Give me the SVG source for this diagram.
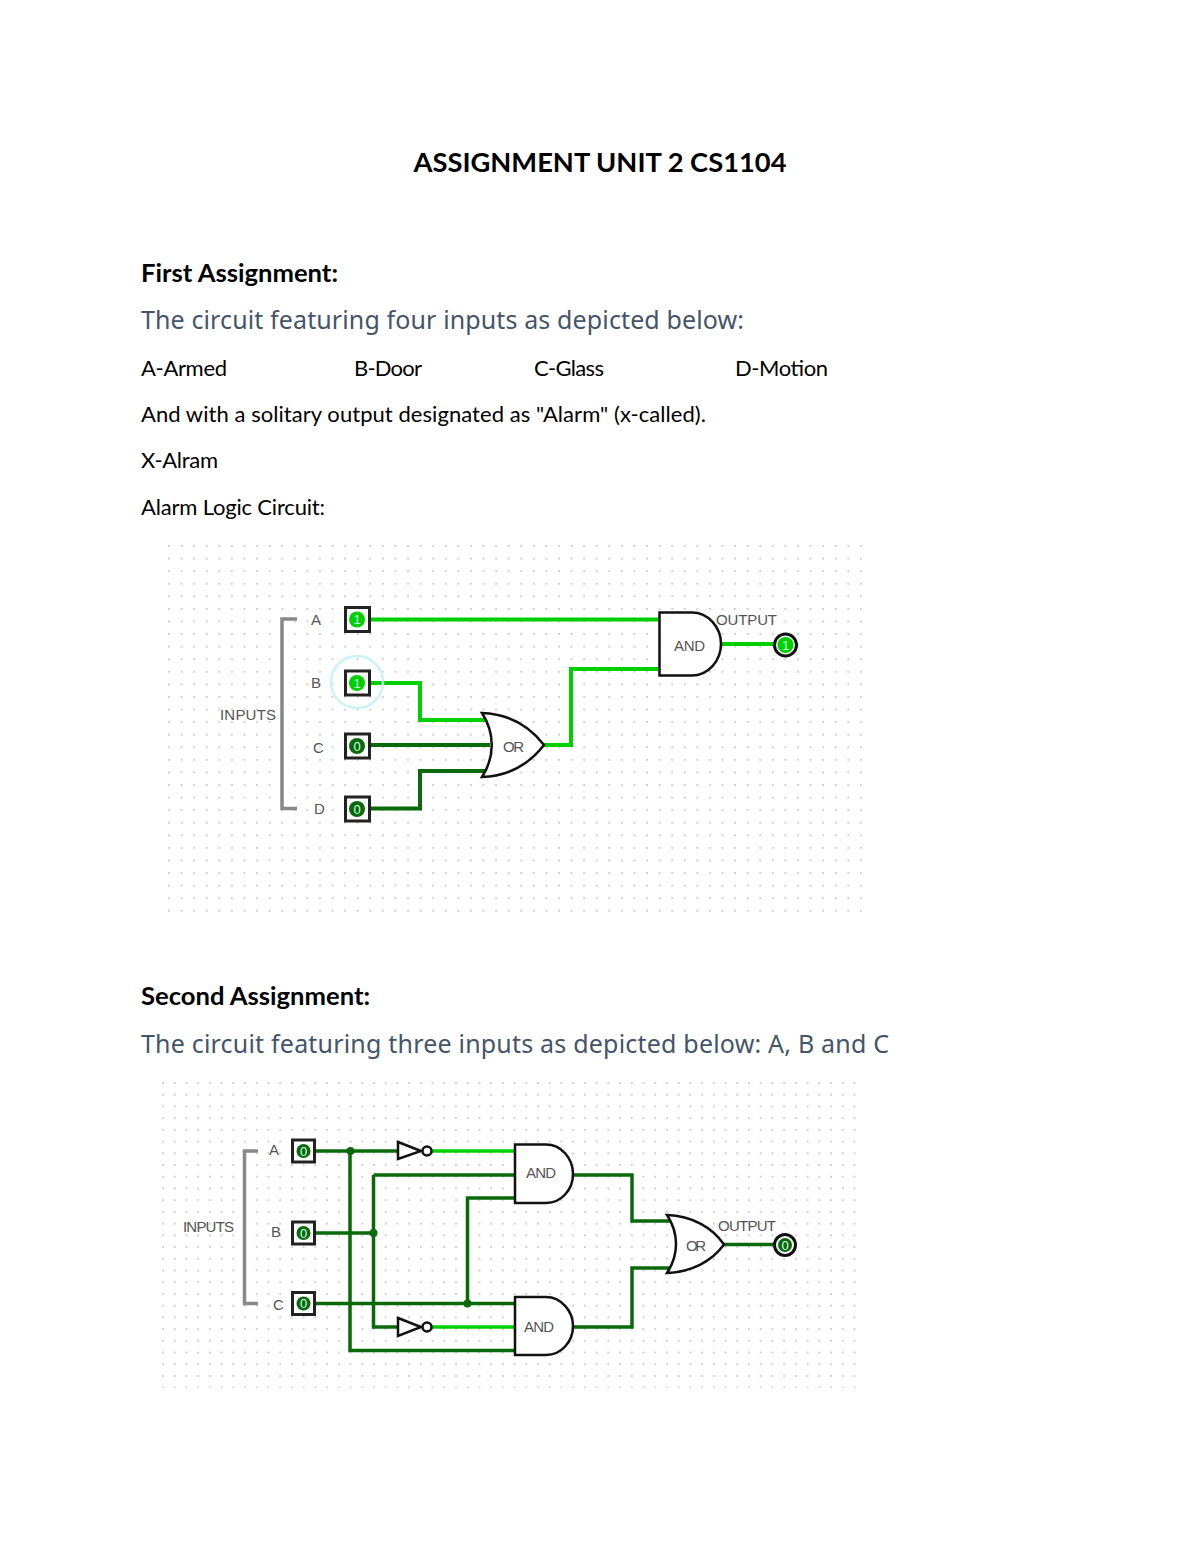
<svg xmlns="http://www.w3.org/2000/svg" width="1200" height="1553" viewBox="0 0 1200 1553">
<style>
text{font-family:"Lato","Liberation Sans",sans-serif;fill:#000}
.body{font-size:22px}
.h{font-size:24px;font-weight:700}
.sub{font-family:"Noto Sans","Open Sans",sans-serif;font-size:25px;fill:#44546a}
.lab{font-family:"Liberation Sans",sans-serif;font-size:15px;fill:#555}
.hi{fill:none;stroke:#00d000;stroke-width:3.5;stroke-linejoin:miter}
.lo{fill:none;stroke:#0a6a0a;stroke-width:3.5;stroke-linejoin:miter}
#wires-1 path{stroke-width:4}
.gate{fill:#fff;stroke:#111;stroke-width:2.5}
.box{fill:#fff;stroke:#222;stroke-width:3}
.br{fill:none;stroke:#888;stroke-width:3.5}
.on{fill:#00d000}.off{fill:#0a6a0a}
.v{font-family:"Liberation Sans",sans-serif;font-size:13px;fill:#cfe;text-anchor:middle}
</style>
<defs>
<pattern id="d1" x="168" y="545" width="12.58" height="12.58" patternUnits="userSpaceOnUse"><circle cx="1" cy="1" r="0.9" fill="#bbb"/></pattern>
<pattern id="d2" x="162" y="1082" width="11.72" height="11.72" patternUnits="userSpaceOnUse"><circle cx="1" cy="1" r="0.9" fill="#bbb"/></pattern>
</defs>
<rect width="1200" height="1553" fill="#fff"/>
<g id="page-text">
<text x="600" y="172" class="h" text-anchor="middle" style="font-size:27px" textLength="373" lengthAdjust="spacingAndGlyphs">ASSIGNMENT UNIT 2 CS1104</text>
<text x="141" y="282" class="h" textLength="197" lengthAdjust="spacingAndGlyphs">First Assignment:</text>
<text x="141" y="329" class="sub" textLength="603" lengthAdjust="spacing">The circuit featuring four inputs as depicted below:</text>
<text x="141" y="376" class="body" textLength="86">A-Armed</text>
<text x="354" y="376" class="body" textLength="68">B-Door</text>
<text x="534" y="376" class="body" textLength="70">C-Glass</text>
<text x="735" y="376" class="body" textLength="93">D-Motion</text>
<text x="141" y="422" class="body" textLength="565">And with a solitary output designated as "Alarm" (x-called).</text>
<text x="141" y="468" class="body" textLength="77">X-Alram</text>
<text x="141" y="515" class="body" textLength="184">Alarm Logic Circuit:</text>
<text x="141" y="1005" class="h" textLength="229" lengthAdjust="spacingAndGlyphs">Second Assignment:</text>
<text x="141" y="1053" class="sub" textLength="748" lengthAdjust="spacing">The circuit featuring three inputs as depicted below: A, B and C</text>
</g>
<rect id="grid-1" x="166" y="543" width="698" height="370" fill="url(#d1)"/>
<rect id="grid-2" x="160" y="1080" width="700" height="308" fill="url(#d2)"/>

<g id="connectors">
<g id="wires-1">
<path class="hi" d="M370 619.500H660"/>
<path class="hi" d="M370 683H420V720H485"/>
<path class="lo" d="M370 745H490"/>
<path class="lo" d="M370 808.500H420V771H485"/>
<path class="hi" d="M544 745H571V669H660"/>
<path class="hi" d="M720 644H775"/>
</g>
<g id="wires-2">
<path class="lo" d="M315 1151H398"/>
<path class="hi" d="M432 1151H516"/>
<path class="lo" d="M350 1151V1350.500H516"/>
<path class="lo" d="M315 1233H374"/>
<path class="lo" d="M373.500 1175H516M373.500 1175V1327H398"/>
<path class="lo" d="M315 1303.500H516"/>
<path class="lo" d="M467.500 1303.500V1198H516"/>
<path class="hi" d="M432 1327H516"/>
<path class="lo" d="M573 1175H632V1221H670"/>
<path class="lo" d="M573 1327H632V1268H670"/>
<path class="lo" d="M724 1244.500H775"/>
<circle cx="350.500" cy="1151" r="4" class="off"/>
<circle cx="373.500" cy="1233" r="4" class="off"/>
<circle cx="467.500" cy="1303.500" r="4" class="off"/>
</g>
</g>

<g id="bracket-1"><path class="br" d="M297 619H282V808.500H297"/><text x="220" y="720" class="lab" textLength="56">INPUTS</text></g>
<g id="highlight-b"><circle cx="357" cy="682" r="26" fill="none" stroke="#c8f4f8" stroke-width="2.500"/></g>
<g id="input-A"><text x="311" y="625" class="lab">A</text><rect class="box" x="345.500" y="607.500" width="24" height="24"/><circle cx="357" cy="619.500" r="8" class="on"/><text x="357" y="624" class="v">1</text></g>
<g id="input-B"><text x="311" y="688" class="lab">B</text><rect class="box" x="345.500" y="671" width="24" height="24"/><circle cx="357" cy="683" r="8" class="on"/><text x="357" y="687.500" class="v">1</text></g>
<g id="input-C"><text x="313" y="753" class="lab">C</text><rect class="box" x="345.500" y="734" width="24" height="24"/><circle cx="357" cy="746" r="8" class="off"/><text x="357" y="750.500" class="v">0</text></g>
<g id="input-D"><text x="314" y="814" class="lab">D</text><rect class="box" x="345.500" y="797" width="24" height="24"/><circle cx="357" cy="809" r="8" class="off"/><text x="357" y="813.500" class="v">0</text></g>
<g id="or-1"><path class="gate" d="M482 713C510 714 530 727 544 745C530 763 510 776 482 777C495 757 495 733 482 713Z"/><text x="503" y="752" class="lab" textLength="21">OR</text></g>
<g id="and-1"><path class="gate" d="M659.500 612.500H692C708 612.500 721 627 721 644C721 661 708 675.500 692 675.500H659.500Z"/><text x="674" y="651" class="lab" textLength="31">AND</text></g>
<g id="output-1"><text x="716" y="625" class="lab" textLength="61">OUTPUT</text><circle cx="785.500" cy="645" r="11" fill="#fff" stroke="#111" stroke-width="3"/><circle cx="785.500" cy="645" r="8" class="on"/><text x="785.500" y="649.500" class="v">1</text></g>

<g id="bracket-2"><path class="br" d="M258 1151H244.500V1303.500H258"/><text x="183" y="1232" class="lab" textLength="51">INPUTS</text></g>
<g id="input2-A"><text x="269" y="1155" class="lab">A</text><rect class="box" x="292.500" y="1140" width="22" height="22"/><circle cx="303.500" cy="1151" r="7" class="off"/><text x="303.500" y="1155.500" class="v">0</text></g>
<g id="input2-B"><text x="271" y="1237" class="lab">B</text><rect class="box" x="292.500" y="1222" width="22" height="22"/><circle cx="303.500" cy="1233" r="7" class="off"/><text x="303.500" y="1237.500" class="v">0</text></g>
<g id="input2-C"><text x="273" y="1310" class="lab">C</text><rect class="box" x="292.500" y="1292.500" width="22" height="22"/><circle cx="303.500" cy="1303.500" r="7" class="off"/><text x="303.500" y="1308" class="v">0</text></g>
<g id="not-1"><path class="gate" d="M398 1142L421 1151L398 1159Z"/><circle class="gate" cx="427" cy="1151" r="4.500"/></g>
<g id="not-2"><path class="gate" d="M398 1318L421 1327L398 1336Z"/><circle class="gate" cx="427" cy="1327" r="4.500"/></g>
<g id="and-2"><path class="gate" d="M515 1144.500H546C561 1144.500 573 1158 573 1174C573 1190 561 1203 546 1203H515Z"/><text x="526" y="1178" class="lab" textLength="30">AND</text></g>
<g id="and-3"><path class="gate" d="M515 1297H546C561 1297 573 1311 573 1326C573 1342 561 1355 546 1355H515Z"/><text x="524" y="1332" class="lab" textLength="30">AND</text></g>
<g id="or-2"><path class="gate" d="M667 1215C692 1216 712 1227 724 1244.500C712 1261 692 1272 667 1273C679 1255 679 1233 667 1215Z"/><text x="686" y="1251" class="lab" textLength="20">OR</text></g>
<g id="output-2"><text x="718" y="1231" class="lab" textLength="58">OUTPUT</text><circle cx="785" cy="1245" r="10.500" fill="#fff" stroke="#111" stroke-width="3"/><circle cx="785" cy="1245" r="7" class="off"/><text x="785" y="1249.500" class="v">0</text></g>
</svg>
